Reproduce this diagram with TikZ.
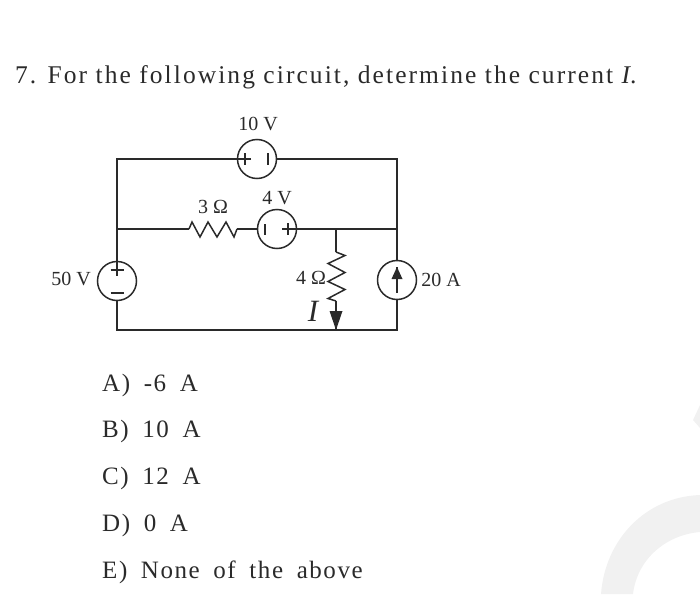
\documentclass[tikz,border=0pt]{standalone}
\usepackage{fontspec}
\setmainfont{Liberation Serif}
\newfontfamily\spaced[LetterSpace=8.1,WordSpace=1.0]{Liberation Serif}
\newfontfamily\spacedb[LetterSpace=6.2,WordSpace=1.75]{Liberation Serif}
\usetikzlibrary{arrows.meta}
\definecolor{ink}{HTML}{2A2A2A}
\definecolor{wmark}{HTML}{F1F1F1}
\tikzset{
  wire/.style={draw=ink,line width=1.5pt},
  src/.style={circle,draw=ink,line width=1.5pt,minimum size=39pt,inner sep=0pt,fill=none},
  sign/.style={draw=ink,line width=1.4pt},
  val/.style={text=ink,font=\fontsize{20}{22}\selectfont,inner sep=0pt},
  line1/.style={text=ink,font=\spaced\fontsize{25.5}{28}\selectfont,inner sep=0pt,anchor=base west},
  choice/.style={text=ink,font=\spacedb\fontsize{25}{28}\selectfont,inner sep=0pt,anchor=base west},
}
\begin{document}
\begin{tikzpicture}[x=1pt,y=-1pt]
\useasboundingbox (0,0) rectangle (700,594);
% watermark
\fill[wmark] (601,594) .. controls (605,540) and (645,497) .. (700,495) -- (700,532) .. controls (665,535) and (637,560) .. (633,594) -- cycle;
\fill[wmark] (693,420) -- (700,405) -- (700,428) -- cycle;
% text
\node[line1] (title) at (15,83) {7. For the following circuit, determine the current {\fontspec{Liberation Serif}[Style=Italic]\itshape I}.};
\node[choice] (a) at (102,391) {A) -6 A};
\node[choice] (b) at (102,437) {B) 10 A};
\node[choice] (c) at (102,484) {C) 12 A};
\node[choice] (d) at (102,531) {D) 0 A};
\node[choice] (e) at (102,578) {E) None of the above};
% corners and junctions
\coordinate (tl) at (117,159);
\coordinate (tr) at (397,159);
\coordinate (ml) at (117,229);
\coordinate (mr) at (397,229);
\coordinate (bl) at (117,330);
\coordinate (br) at (397,330);
\coordinate (rj) at (336,229);
\coordinate (rb) at (336,330);
% sources
\node[src] (v10) at (257,159) {};
\node[src] (v4) at (277,229) {};
\node[src] (v50) at (117,281) {};
\node[src] (i20) at (397,280) {};
% wires
\coordinate (p10) at (251,159);
\coordinate (p4) at (282,229);
\coordinate (p50) at (117,276);
\draw[wire,line join=miter] (p10) -- (tl) -- (ml) -- (p50);
\draw[wire] (v10.east) -- (tr) -- (mr) -- (i20.north);
\draw[wire] (p4) -- (mr);
\draw[wire] (v50.south) -- (bl) -- (br) -- (i20.south);
% 3 ohm resistor
\coordinate (r3a) at (189,229);
\coordinate (r3b) at (237,229);
\draw[wire] (ml) -- (r3a);
\draw[wire] (r3a) -- ++(3,-7) -- ++(8,15) -- ++(8,-15) -- ++(9,15) -- ++(9,-15) -- ++(8,15) -- (r3b);
\draw[wire] (r3b) -- (v4.west);
% 4 ohm resistor
\coordinate (r4a) at (336,252);
\coordinate (r4b) at (336,301);
\draw[wire] (rj) -- (r4a);
\draw[wire] (r4a) -- ++(9,3.5) -- ++(-17,8) -- ++(17,9) -- ++(-17,9) -- ++(17,8) -- ++(-17,9) -- (r4b);
\draw[wire] (r4b) -- (rb);
\fill[ink] (rb) -- (329.5,311) -- (342.5,311) -- cycle;
% signs
\draw[sign] (245,153) -- (245,165);
\draw[sign] (268,153) -- (268,165);
\draw[sign] (265,224) -- (265,235);
\draw[sign] (288,223) -- (288,235);
\draw[sign] (110.5,270) -- (123.5,270);
\draw[sign] (110.5,293) -- (123.5,293);
\coordinate (a20s) at (397,293);
\coordinate (a20e) at (397,267);
\draw[wire] (a20s) -- (a20e);
\fill[ink] (a20e) -- (391.5,279) -- (402.5,279) -- cycle;
% labels
\node[val] (l10) at (258,124) {10 V};
\node[val] (l4) at (277,198) {4 V};
\node[val] (l3) at (213,207) {3 Ω};
\node[val] (l50) at (71,279) {50 V};
\node[val] (l4o) at (311,278) {4 Ω};
\node[val] (l20) at (441,280) {20 A};
\node[val,font=\fontsize{31}{33}\selectfont\itshape] (lI) at (313,311) {I};
\end{tikzpicture}
\end{document}
